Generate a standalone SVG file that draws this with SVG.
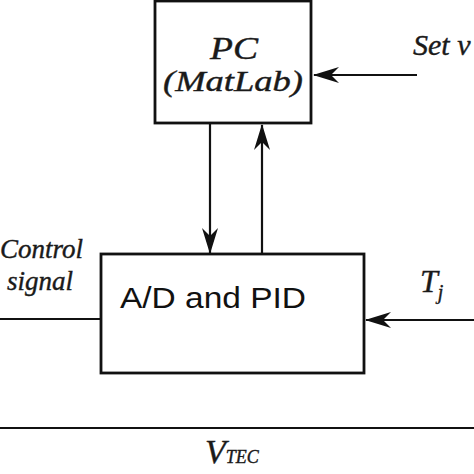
<svg xmlns="http://www.w3.org/2000/svg" width="474" height="474" viewBox="0 0 474 474">
<style>
.box{fill:#fff;stroke:#111;stroke-width:2.8}
.ln{stroke:#111;stroke-width:2.2;fill:none}
.it{font-family:"Liberation Serif","Times New Roman","DejaVu Serif",serif;font-style:italic;fill:#1a1a1a;stroke:#1a1a1a;stroke-width:0.4}
.sans{font-family:"Liberation Sans",Arial,sans-serif;fill:#111}
</style>
<defs>
<marker id="ah" viewBox="0 0 26 16" refX="25" refY="8" markerWidth="26" markerHeight="16" markerUnits="userSpaceOnUse" orient="auto">
<path d="M0,0 L26,8 L0,16 L8,8 Z" fill="#111"/>
</marker>
</defs>
<rect width="474" height="474" fill="#fff"/>
<g id="connectors">
<line class="ln" x1="417" y1="75" x2="314" y2="75" stroke-width="4" marker-end="url(#ah)"/>
<line class="ln" x1="210" y1="124" x2="210" y2="253" marker-end="url(#ah)"/>
<line class="ln" x1="262" y1="253" x2="262" y2="125" marker-end="url(#ah)"/>
<line class="ln" x1="0" y1="319" x2="100" y2="319"/>
<line class="ln" x1="474" y1="320" x2="366" y2="320" marker-end="url(#ah)"/>
<line class="ln" x1="0" y1="428" x2="474" y2="428" stroke-width="3.5"/>
</g>
<g id="pc">
<rect class="box" x="155" y="1" width="156" height="122"/>
<text class="it" x="210" y="59" font-size="31" textLength="48" lengthAdjust="spacingAndGlyphs">PC</text>
<text class="it" x="163" y="91" font-size="30" textLength="140" lengthAdjust="spacingAndGlyphs">(MatLab)</text>
</g>
<g id="adpid">
<rect class="box" x="101" y="254" width="263" height="119"/>
<text class="sans" x="120" y="308" font-size="29" textLength="186" lengthAdjust="spacingAndGlyphs">A/D and PID</text>
</g>
<g id="labels">
<text class="it" x="413" y="55" font-size="30">Set v</text>
<text class="it" x="83" y="258" font-size="27" text-anchor="end">Control</text>
<text class="it" x="73" y="290" font-size="27" text-anchor="end">signal</text>
<text class="it" x="420" y="292" font-size="32">T<tspan font-size="20" dy="7">j</tspan></text>
<text class="it" x="205" y="463" font-size="34">V<tspan font-size="18">TEC</tspan></text>
</g>
</svg>
